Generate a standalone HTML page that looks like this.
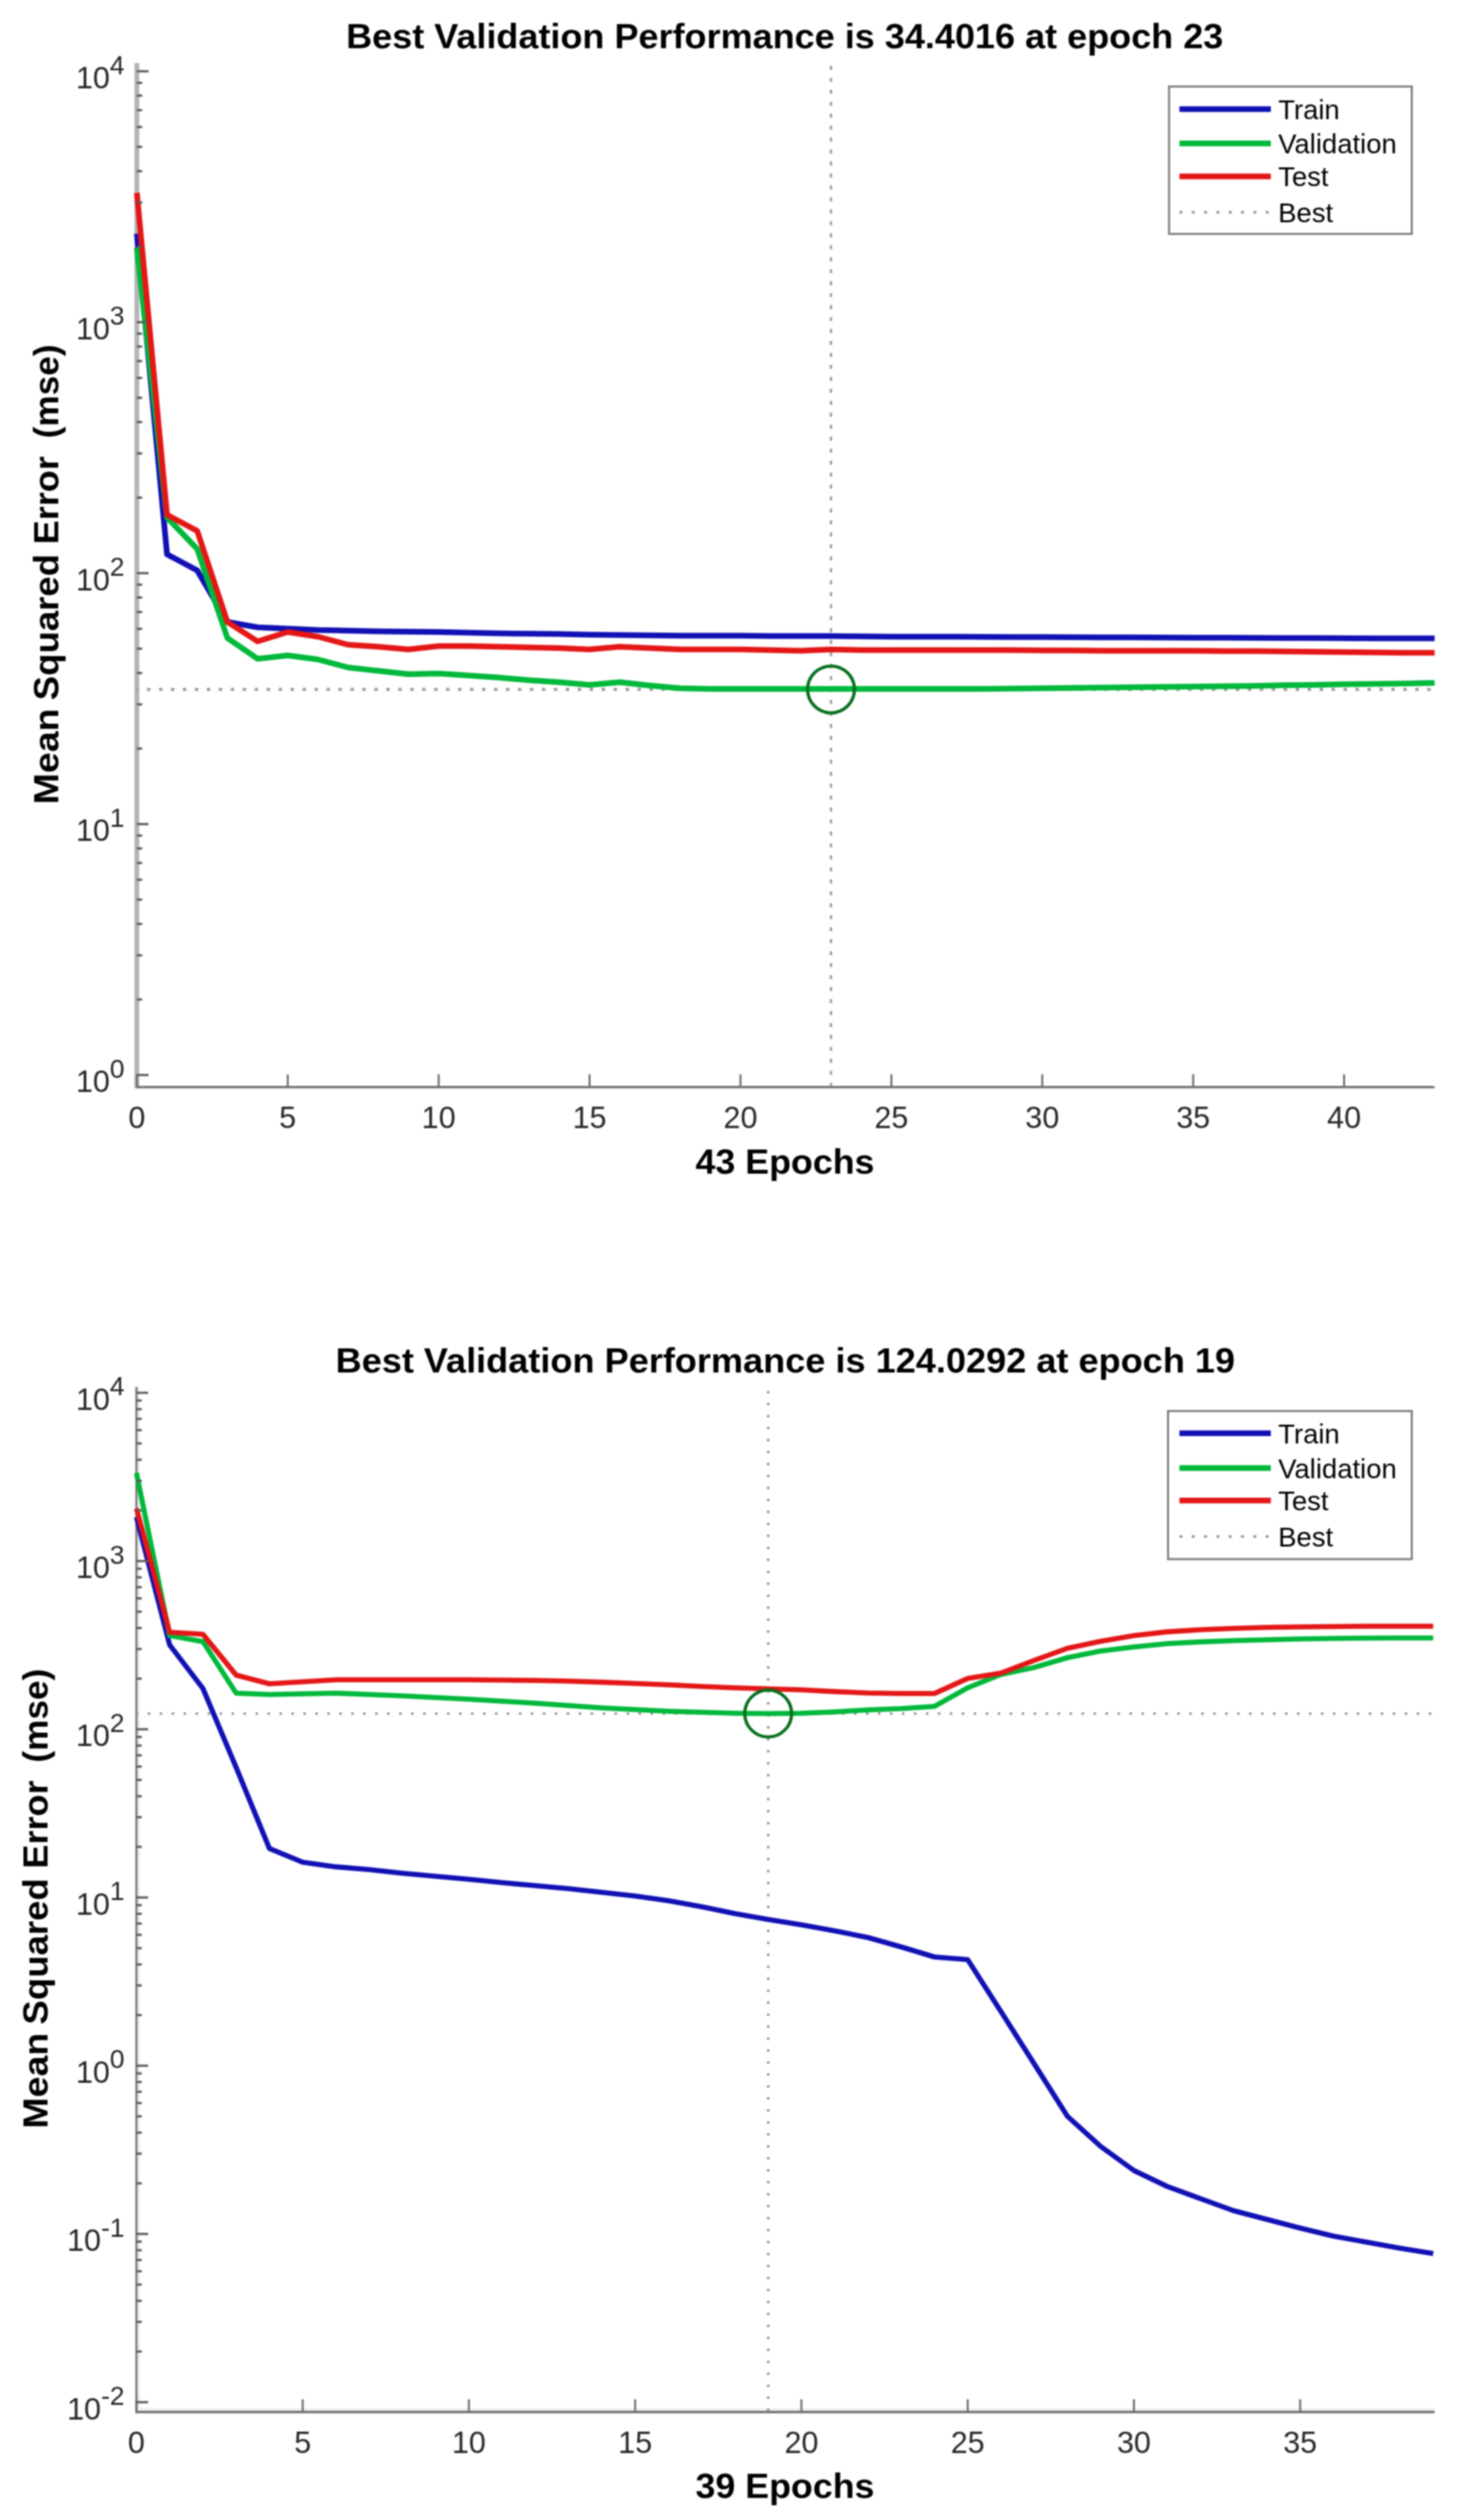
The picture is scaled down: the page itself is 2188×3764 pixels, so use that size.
<!DOCTYPE html>
<html><head><meta charset="utf-8"><title>Best Validation Performance</title>
<style>
html,body{margin:0;padding:0;background:#fff;}
body{width:2188px;height:3764px;overflow:hidden;}
svg{display:block;filter:blur(0.8px);}
.tk{font-family:'Liberation Sans', Arial, Helvetica, sans-serif;font-size:45.5px;fill:#262626;}
.sup{font-size:39.5px;}
.bt{font-family:'Liberation Sans', Arial, Helvetica, sans-serif;font-size:52px;font-weight:bold;fill:#000;}
.lg{font-family:'Liberation Sans', Arial, Helvetica, sans-serif;font-size:41px;fill:#000;}
</style></head><body>
<svg width="2188" height="3764" viewBox="0 0 2188 3764">
<rect width="2188" height="3764" fill="#fff"/>
<line x1="204.4" y1="94" x2="204.4" y2="1625.4" stroke="#b5b5b5" stroke-width="7.2"/>
<line x1="203.9" y1="1623.7" x2="2142.5" y2="1623.7" stroke="#6e6e6e" stroke-width="3.4"/>
<line x1="204.4" y1="1029.79" x2="2139.5" y2="1029.79" stroke="#9a9a9a" stroke-width="4.6" stroke-dasharray="5 12.87" stroke-dashoffset="2.67"/>
<line x1="1241.13" y1="94" x2="1241.13" y2="1621.7" stroke="#9a9a9a" stroke-width="3.4" stroke-dasharray="6 11.87" stroke-dashoffset="13.57"/>
<polyline points="204.4,349 249.48,828 294.55,852 339.62,929 384.7,937 429.77,939 474.85,941 519.93,942 565,943 610.08,943.5 655.15,944 700.23,945 745.3,946 790.38,946.5 835.45,947 880.52,948 925.6,948.5 970.68,949 1015.75,949.5 1060.83,949.5 1105.9,949.5 1150.98,950 1196.05,950 1241.13,950 1286.2,950.5 1331.28,951 1376.35,951 1421.43,951 1466.5,951.2 1511.58,951.5 1556.65,951.5 1601.73,951.8 1646.8,952 1691.88,952 1736.95,952.2 1782.03,952.5 1827.1,952.5 1872.18,952.8 1917.25,953 1962.33,953 2007.4,953.2 2052.47,953.5 2097.55,953.5 2142.62,953.5" fill="none" stroke="#1010b4" stroke-width="8.5" stroke-linejoin="round" stroke-linecap="butt"/>
<polyline points="204.4,370 249.48,773 294.55,820 339.62,953 384.7,984 429.77,979 474.85,985 519.93,997 565,1002 610.08,1007 655.15,1006 700.23,1009 745.3,1012 790.38,1016 835.45,1019 880.52,1023 925.6,1019 970.68,1024 1015.75,1028 1060.83,1029 1105.9,1029 1150.98,1029 1196.05,1029 1241.13,1029 1286.2,1029 1331.28,1029 1376.35,1029 1421.43,1029 1466.5,1029 1511.58,1028.5 1556.65,1028 1601.73,1027.5 1646.8,1027 1691.88,1026.5 1736.95,1026 1782.03,1025.5 1827.1,1025 1872.18,1024.5 1917.25,1023.5 1962.33,1023 2007.4,1022 2052.47,1021.5 2097.55,1021 2142.62,1020" fill="none" stroke="#00b83a" stroke-width="8.5" stroke-linejoin="round" stroke-linecap="butt"/>
<polyline points="204.4,288 249.48,769 294.55,793 339.62,929 384.7,958 429.77,944 474.85,951 519.93,963 565,966 610.08,970 655.15,965 700.23,965 745.3,966 790.38,967 835.45,968 880.52,970 925.6,966 970.68,968 1015.75,970 1060.83,970 1105.9,970 1150.98,971 1196.05,972 1241.13,970 1286.2,971 1331.28,971 1376.35,971 1421.43,971 1466.5,971 1511.58,971 1556.65,971.5 1601.73,971.5 1646.8,972 1691.88,972 1736.95,972 1782.03,972 1827.1,972.5 1872.18,972.5 1917.25,973 1962.33,973.5 2007.4,974 2052.47,974.5 2097.55,975 2142.62,975" fill="none" stroke="#e41616" stroke-width="8.5" stroke-linejoin="round" stroke-linecap="butt"/>
<circle cx="1241.13" cy="1029.79" r="35" fill="none" stroke="#066f1c" stroke-width="4.8"/>
<line x1="204.4" y1="1623.7" x2="204.4" y2="1604.7" stroke="#6e6e6e" stroke-width="3"/>
<text x="204.4" y="1684.8" text-anchor="middle" class="tk">0</text>
<line x1="429.77" y1="1623.7" x2="429.77" y2="1604.7" stroke="#6e6e6e" stroke-width="3"/>
<text x="429.77" y="1684.8" text-anchor="middle" class="tk">5</text>
<line x1="655.15" y1="1623.7" x2="655.15" y2="1604.7" stroke="#6e6e6e" stroke-width="3"/>
<text x="655.15" y="1684.8" text-anchor="middle" class="tk">10</text>
<line x1="880.52" y1="1623.7" x2="880.52" y2="1604.7" stroke="#6e6e6e" stroke-width="3"/>
<text x="880.52" y="1684.8" text-anchor="middle" class="tk">15</text>
<line x1="1105.9" y1="1623.7" x2="1105.9" y2="1604.7" stroke="#6e6e6e" stroke-width="3"/>
<text x="1105.9" y="1684.8" text-anchor="middle" class="tk">20</text>
<line x1="1331.28" y1="1623.7" x2="1331.28" y2="1604.7" stroke="#6e6e6e" stroke-width="3"/>
<text x="1331.28" y="1684.8" text-anchor="middle" class="tk">25</text>
<line x1="1556.65" y1="1623.7" x2="1556.65" y2="1604.7" stroke="#6e6e6e" stroke-width="3"/>
<text x="1556.65" y="1684.8" text-anchor="middle" class="tk">30</text>
<line x1="1782.03" y1="1623.7" x2="1782.03" y2="1604.7" stroke="#6e6e6e" stroke-width="3"/>
<text x="1782.03" y="1684.8" text-anchor="middle" class="tk">35</text>
<line x1="2007.4" y1="1623.7" x2="2007.4" y2="1604.7" stroke="#6e6e6e" stroke-width="3"/>
<text x="2007.4" y="1684.8" text-anchor="middle" class="tk">40</text>
<line x1="204.4" y1="1605.7" x2="221.9" y2="1605.7" stroke="#5a5a5a" stroke-width="3.3"/>
<line x1="204.4" y1="1492.87" x2="212.4" y2="1492.87" stroke="#5a5a5a" stroke-width="3.3"/>
<line x1="204.4" y1="1426.87" x2="212.4" y2="1426.87" stroke="#5a5a5a" stroke-width="3.3"/>
<line x1="204.4" y1="1380.05" x2="212.4" y2="1380.05" stroke="#5a5a5a" stroke-width="3.3"/>
<line x1="204.4" y1="1343.73" x2="212.4" y2="1343.73" stroke="#5a5a5a" stroke-width="3.3"/>
<line x1="204.4" y1="1314.05" x2="212.4" y2="1314.05" stroke="#5a5a5a" stroke-width="3.3"/>
<line x1="204.4" y1="1288.96" x2="212.4" y2="1288.96" stroke="#5a5a5a" stroke-width="3.3"/>
<line x1="204.4" y1="1267.22" x2="212.4" y2="1267.22" stroke="#5a5a5a" stroke-width="3.3"/>
<line x1="204.4" y1="1248.05" x2="212.4" y2="1248.05" stroke="#5a5a5a" stroke-width="3.3"/>
<text x="186" y="1631.2" text-anchor="end" class="tk">10<tspan class="sup" dy="-21.5">0</tspan></text>
<line x1="204.4" y1="1230.9" x2="221.9" y2="1230.9" stroke="#5a5a5a" stroke-width="3.3"/>
<line x1="204.4" y1="1118.07" x2="212.4" y2="1118.07" stroke="#5a5a5a" stroke-width="3.3"/>
<line x1="204.4" y1="1052.07" x2="212.4" y2="1052.07" stroke="#5a5a5a" stroke-width="3.3"/>
<line x1="204.4" y1="1005.25" x2="212.4" y2="1005.25" stroke="#5a5a5a" stroke-width="3.3"/>
<line x1="204.4" y1="968.93" x2="212.4" y2="968.93" stroke="#5a5a5a" stroke-width="3.3"/>
<line x1="204.4" y1="939.25" x2="212.4" y2="939.25" stroke="#5a5a5a" stroke-width="3.3"/>
<line x1="204.4" y1="914.16" x2="212.4" y2="914.16" stroke="#5a5a5a" stroke-width="3.3"/>
<line x1="204.4" y1="892.42" x2="212.4" y2="892.42" stroke="#5a5a5a" stroke-width="3.3"/>
<line x1="204.4" y1="873.25" x2="212.4" y2="873.25" stroke="#5a5a5a" stroke-width="3.3"/>
<text x="186" y="1256.4" text-anchor="end" class="tk">10<tspan class="sup" dy="-21.5">1</tspan></text>
<line x1="204.4" y1="856.1" x2="221.9" y2="856.1" stroke="#5a5a5a" stroke-width="3.3"/>
<line x1="204.4" y1="743.27" x2="212.4" y2="743.27" stroke="#5a5a5a" stroke-width="3.3"/>
<line x1="204.4" y1="677.27" x2="212.4" y2="677.27" stroke="#5a5a5a" stroke-width="3.3"/>
<line x1="204.4" y1="630.45" x2="212.4" y2="630.45" stroke="#5a5a5a" stroke-width="3.3"/>
<line x1="204.4" y1="594.13" x2="212.4" y2="594.13" stroke="#5a5a5a" stroke-width="3.3"/>
<line x1="204.4" y1="564.45" x2="212.4" y2="564.45" stroke="#5a5a5a" stroke-width="3.3"/>
<line x1="204.4" y1="539.36" x2="212.4" y2="539.36" stroke="#5a5a5a" stroke-width="3.3"/>
<line x1="204.4" y1="517.62" x2="212.4" y2="517.62" stroke="#5a5a5a" stroke-width="3.3"/>
<line x1="204.4" y1="498.45" x2="212.4" y2="498.45" stroke="#5a5a5a" stroke-width="3.3"/>
<text x="186" y="881.6" text-anchor="end" class="tk">10<tspan class="sup" dy="-21.5">2</tspan></text>
<line x1="204.4" y1="481.3" x2="221.9" y2="481.3" stroke="#5a5a5a" stroke-width="3.3"/>
<line x1="204.4" y1="368.47" x2="212.4" y2="368.47" stroke="#5a5a5a" stroke-width="3.3"/>
<line x1="204.4" y1="302.47" x2="212.4" y2="302.47" stroke="#5a5a5a" stroke-width="3.3"/>
<line x1="204.4" y1="255.65" x2="212.4" y2="255.65" stroke="#5a5a5a" stroke-width="3.3"/>
<line x1="204.4" y1="219.33" x2="212.4" y2="219.33" stroke="#5a5a5a" stroke-width="3.3"/>
<line x1="204.4" y1="189.65" x2="212.4" y2="189.65" stroke="#5a5a5a" stroke-width="3.3"/>
<line x1="204.4" y1="164.56" x2="212.4" y2="164.56" stroke="#5a5a5a" stroke-width="3.3"/>
<line x1="204.4" y1="142.82" x2="212.4" y2="142.82" stroke="#5a5a5a" stroke-width="3.3"/>
<line x1="204.4" y1="123.65" x2="212.4" y2="123.65" stroke="#5a5a5a" stroke-width="3.3"/>
<text x="186" y="506.8" text-anchor="end" class="tk">10<tspan class="sup" dy="-21.5">3</tspan></text>
<line x1="204.4" y1="106.5" x2="221.9" y2="106.5" stroke="#5a5a5a" stroke-width="3.3"/>
<text x="186" y="132" text-anchor="end" class="tk">10<tspan class="sup" dy="-21.5">4</tspan></text>
<text x="517" y="72.4" class="bt" textLength="1310" lengthAdjust="spacingAndGlyphs">Best Validation Performance is 34.4016 at epoch 23</text>
<text x="1038.8" y="1752.9" class="bt" textLength="267.2" lengthAdjust="spacingAndGlyphs">43 Epochs</text>
<text transform="translate(87,1201.54) rotate(-90)" x="0" y="0" class="bt" textLength="143.39" lengthAdjust="spacingAndGlyphs">Mean</text>
<text transform="translate(87,1045.9) rotate(-90)" x="0" y="0" class="bt" textLength="218.51" lengthAdjust="spacingAndGlyphs">Squared</text>
<text transform="translate(87,812.9) rotate(-90)" x="0" y="0" class="bt" textLength="131.5" lengthAdjust="spacingAndGlyphs">Error</text>
<text transform="translate(87,654.84) rotate(-90)" x="0" y="0" class="bt" textLength="140.39" lengthAdjust="spacingAndGlyphs">(mse)</text>
<rect x="1746" y="129.2" width="362.5" height="220.2" fill="#fff" stroke="#7a7a7a" stroke-width="3"/>
<line x1="1761.5" y1="163" x2="1898" y2="163" stroke="#1010b4" stroke-width="8.5"/>
<text x="1909" y="177.8" class="lg">Train</text>
<line x1="1761.5" y1="214.3" x2="1898" y2="214.3" stroke="#00b83a" stroke-width="8.5"/>
<text x="1909" y="229.1" class="lg">Validation</text>
<line x1="1761.5" y1="263.4" x2="1898" y2="263.4" stroke="#e41616" stroke-width="8.5"/>
<text x="1909" y="278.2" class="lg">Test</text>
<line x1="1761.5" y1="317" x2="1898" y2="317" stroke="#9a9a9a" stroke-width="4.2" stroke-dasharray="4.5 13.9"/>
<text x="1909" y="331.8" class="lg">Best</text>
<line x1="207.05" y1="2071.6" x2="207.05" y2="3599.7" stroke="#ededed" stroke-width="3.4"/>
<line x1="205.35" y1="3599.1" x2="2142.5" y2="3599.1" stroke="#ededed" stroke-width="3.6"/>
<line x1="203.75" y1="2071.6" x2="203.75" y2="3604.4" stroke="#7a7a7a" stroke-width="3.2"/>
<line x1="203.25" y1="3602.7" x2="2142.5" y2="3602.7" stroke="#6e6e6e" stroke-width="3.4"/>
<line x1="203.75" y1="2559.42" x2="2139.5" y2="2559.42" stroke="#8a8a8a" stroke-width="3.5" stroke-dasharray="3.5 14.38" stroke-dashoffset="0.88"/>
<line x1="1147.29" y1="2071.6" x2="1147.29" y2="3600.7" stroke="#8a8a8a" stroke-width="3.5" stroke-dasharray="3.5 14.38" stroke-dashoffset="11.78"/>
<polyline points="203.75,2266 253.41,2457 303.07,2522 352.73,2640 402.39,2761 452.05,2781.6 501.71,2788.4 551.37,2792.5 601.03,2798 650.69,2802.5 700.35,2807 750.01,2812 799.67,2816.5 849.33,2821 898.99,2826.5 948.65,2832 998.31,2839 1047.97,2848 1097.63,2858.3 1147.29,2867 1196.95,2875 1246.61,2884 1296.27,2894 1345.93,2908 1395.59,2923 1445.25,2927 1494.91,3004.5 1544.57,3082.6 1594.23,3161 1643.89,3206 1693.55,3242 1743.21,3265.7 1792.87,3284 1842.53,3302 1892.19,3315 1941.85,3328 1991.51,3340 2041.17,3349 2090.83,3358 2140.49,3366" fill="none" stroke="#1010b4" stroke-width="7.6" stroke-linejoin="round" stroke-linecap="butt"/>
<polyline points="203.75,2200 253.41,2443 303.07,2452 352.73,2529 402.39,2531 452.05,2530 501.71,2529 551.37,2531 601.03,2533 650.69,2535.5 700.35,2538 750.01,2541 799.67,2544 849.33,2547.5 898.99,2551 948.65,2553.5 998.31,2556 1047.97,2557.5 1097.63,2559 1147.29,2559.5 1196.95,2559 1246.61,2557 1296.27,2554 1345.93,2552 1395.59,2548.7 1445.25,2521 1494.91,2501 1544.57,2490.6 1594.23,2476 1643.89,2466 1693.55,2460 1743.21,2455 1792.87,2452.4 1842.53,2450.5 1892.19,2449.3 1941.85,2448 1991.51,2447.3 2041.17,2446.7 2090.83,2446.5 2140.49,2446.5" fill="none" stroke="#00b83a" stroke-width="7.6" stroke-linejoin="round" stroke-linecap="butt"/>
<polyline points="203.75,2253 253.41,2438 303.07,2441 352.73,2502 402.39,2515 452.05,2512 501.71,2509 551.37,2509 601.03,2509 650.69,2509 700.35,2509 750.01,2509.5 799.67,2510 849.33,2511 898.99,2512.6 948.65,2514.5 998.31,2516.5 1047.97,2519 1097.63,2521 1147.29,2522.5 1196.95,2524 1246.61,2526.6 1296.27,2528.7 1345.93,2529.5 1395.59,2529.5 1445.25,2507 1494.91,2499 1544.57,2480 1594.23,2462 1643.89,2451.5 1693.55,2443 1743.21,2437.4 1792.87,2434.2 1842.53,2432.3 1892.19,2430.7 1941.85,2430 1991.51,2429.5 2041.17,2429 2090.83,2429 2140.49,2429" fill="none" stroke="#e41616" stroke-width="7.6" stroke-linejoin="round" stroke-linecap="butt"/>
<circle cx="1147.29" cy="2559.42" r="35" fill="none" stroke="#066f1c" stroke-width="4.8"/>
<line x1="203.75" y1="3602.7" x2="203.75" y2="3583.7" stroke="#6e6e6e" stroke-width="3"/>
<text x="203.75" y="3663.6" text-anchor="middle" class="tk">0</text>
<line x1="452.05" y1="3602.7" x2="452.05" y2="3583.7" stroke="#6e6e6e" stroke-width="3"/>
<text x="452.05" y="3663.6" text-anchor="middle" class="tk">5</text>
<line x1="700.35" y1="3602.7" x2="700.35" y2="3583.7" stroke="#6e6e6e" stroke-width="3"/>
<text x="700.35" y="3663.6" text-anchor="middle" class="tk">10</text>
<line x1="948.65" y1="3602.7" x2="948.65" y2="3583.7" stroke="#6e6e6e" stroke-width="3"/>
<text x="948.65" y="3663.6" text-anchor="middle" class="tk">15</text>
<line x1="1196.95" y1="3602.7" x2="1196.95" y2="3583.7" stroke="#6e6e6e" stroke-width="3"/>
<text x="1196.95" y="3663.6" text-anchor="middle" class="tk">20</text>
<line x1="1445.25" y1="3602.7" x2="1445.25" y2="3583.7" stroke="#6e6e6e" stroke-width="3"/>
<text x="1445.25" y="3663.6" text-anchor="middle" class="tk">25</text>
<line x1="1693.55" y1="3602.7" x2="1693.55" y2="3583.7" stroke="#6e6e6e" stroke-width="3"/>
<text x="1693.55" y="3663.6" text-anchor="middle" class="tk">30</text>
<line x1="1941.85" y1="3602.7" x2="1941.85" y2="3583.7" stroke="#6e6e6e" stroke-width="3"/>
<text x="1941.85" y="3663.6" text-anchor="middle" class="tk">35</text>
<line x1="203.75" y1="3588" x2="221.25" y2="3588" stroke="#5a5a5a" stroke-width="3.3"/>
<line x1="203.75" y1="3512.36" x2="211.75" y2="3512.36" stroke="#5a5a5a" stroke-width="3.3"/>
<line x1="203.75" y1="3468.11" x2="211.75" y2="3468.11" stroke="#5a5a5a" stroke-width="3.3"/>
<line x1="203.75" y1="3436.72" x2="211.75" y2="3436.72" stroke="#5a5a5a" stroke-width="3.3"/>
<line x1="203.75" y1="3412.37" x2="211.75" y2="3412.37" stroke="#5a5a5a" stroke-width="3.3"/>
<line x1="203.75" y1="3392.47" x2="211.75" y2="3392.47" stroke="#5a5a5a" stroke-width="3.3"/>
<line x1="203.75" y1="3375.65" x2="211.75" y2="3375.65" stroke="#5a5a5a" stroke-width="3.3"/>
<line x1="203.75" y1="3361.08" x2="211.75" y2="3361.08" stroke="#5a5a5a" stroke-width="3.3"/>
<line x1="203.75" y1="3348.23" x2="211.75" y2="3348.23" stroke="#5a5a5a" stroke-width="3.3"/>
<text x="186" y="3613.5" text-anchor="end" class="tk">10<tspan class="sup" dy="-21.5">-2</tspan></text>
<line x1="203.75" y1="3336.73" x2="221.25" y2="3336.73" stroke="#5a5a5a" stroke-width="3.3"/>
<line x1="203.75" y1="3261.09" x2="211.75" y2="3261.09" stroke="#5a5a5a" stroke-width="3.3"/>
<line x1="203.75" y1="3216.84" x2="211.75" y2="3216.84" stroke="#5a5a5a" stroke-width="3.3"/>
<line x1="203.75" y1="3185.45" x2="211.75" y2="3185.45" stroke="#5a5a5a" stroke-width="3.3"/>
<line x1="203.75" y1="3161.1" x2="211.75" y2="3161.1" stroke="#5a5a5a" stroke-width="3.3"/>
<line x1="203.75" y1="3141.2" x2="211.75" y2="3141.2" stroke="#5a5a5a" stroke-width="3.3"/>
<line x1="203.75" y1="3124.38" x2="211.75" y2="3124.38" stroke="#5a5a5a" stroke-width="3.3"/>
<line x1="203.75" y1="3109.81" x2="211.75" y2="3109.81" stroke="#5a5a5a" stroke-width="3.3"/>
<line x1="203.75" y1="3096.96" x2="211.75" y2="3096.96" stroke="#5a5a5a" stroke-width="3.3"/>
<text x="186" y="3362.23" text-anchor="end" class="tk">10<tspan class="sup" dy="-21.5">-1</tspan></text>
<line x1="203.75" y1="3085.46" x2="221.25" y2="3085.46" stroke="#5a5a5a" stroke-width="3.3"/>
<line x1="203.75" y1="3009.82" x2="211.75" y2="3009.82" stroke="#5a5a5a" stroke-width="3.3"/>
<line x1="203.75" y1="2965.57" x2="211.75" y2="2965.57" stroke="#5a5a5a" stroke-width="3.3"/>
<line x1="203.75" y1="2934.18" x2="211.75" y2="2934.18" stroke="#5a5a5a" stroke-width="3.3"/>
<line x1="203.75" y1="2909.83" x2="211.75" y2="2909.83" stroke="#5a5a5a" stroke-width="3.3"/>
<line x1="203.75" y1="2889.93" x2="211.75" y2="2889.93" stroke="#5a5a5a" stroke-width="3.3"/>
<line x1="203.75" y1="2873.11" x2="211.75" y2="2873.11" stroke="#5a5a5a" stroke-width="3.3"/>
<line x1="203.75" y1="2858.54" x2="211.75" y2="2858.54" stroke="#5a5a5a" stroke-width="3.3"/>
<line x1="203.75" y1="2845.69" x2="211.75" y2="2845.69" stroke="#5a5a5a" stroke-width="3.3"/>
<text x="186" y="3110.96" text-anchor="end" class="tk">10<tspan class="sup" dy="-21.5">0</tspan></text>
<line x1="203.75" y1="2834.19" x2="221.25" y2="2834.19" stroke="#5a5a5a" stroke-width="3.3"/>
<line x1="203.75" y1="2758.55" x2="211.75" y2="2758.55" stroke="#5a5a5a" stroke-width="3.3"/>
<line x1="203.75" y1="2714.3" x2="211.75" y2="2714.3" stroke="#5a5a5a" stroke-width="3.3"/>
<line x1="203.75" y1="2682.91" x2="211.75" y2="2682.91" stroke="#5a5a5a" stroke-width="3.3"/>
<line x1="203.75" y1="2658.56" x2="211.75" y2="2658.56" stroke="#5a5a5a" stroke-width="3.3"/>
<line x1="203.75" y1="2638.66" x2="211.75" y2="2638.66" stroke="#5a5a5a" stroke-width="3.3"/>
<line x1="203.75" y1="2621.84" x2="211.75" y2="2621.84" stroke="#5a5a5a" stroke-width="3.3"/>
<line x1="203.75" y1="2607.27" x2="211.75" y2="2607.27" stroke="#5a5a5a" stroke-width="3.3"/>
<line x1="203.75" y1="2594.42" x2="211.75" y2="2594.42" stroke="#5a5a5a" stroke-width="3.3"/>
<text x="186" y="2859.69" text-anchor="end" class="tk">10<tspan class="sup" dy="-21.5">1</tspan></text>
<line x1="203.75" y1="2582.92" x2="221.25" y2="2582.92" stroke="#5a5a5a" stroke-width="3.3"/>
<line x1="203.75" y1="2507.28" x2="211.75" y2="2507.28" stroke="#5a5a5a" stroke-width="3.3"/>
<line x1="203.75" y1="2463.03" x2="211.75" y2="2463.03" stroke="#5a5a5a" stroke-width="3.3"/>
<line x1="203.75" y1="2431.64" x2="211.75" y2="2431.64" stroke="#5a5a5a" stroke-width="3.3"/>
<line x1="203.75" y1="2407.29" x2="211.75" y2="2407.29" stroke="#5a5a5a" stroke-width="3.3"/>
<line x1="203.75" y1="2387.39" x2="211.75" y2="2387.39" stroke="#5a5a5a" stroke-width="3.3"/>
<line x1="203.75" y1="2370.57" x2="211.75" y2="2370.57" stroke="#5a5a5a" stroke-width="3.3"/>
<line x1="203.75" y1="2356" x2="211.75" y2="2356" stroke="#5a5a5a" stroke-width="3.3"/>
<line x1="203.75" y1="2343.15" x2="211.75" y2="2343.15" stroke="#5a5a5a" stroke-width="3.3"/>
<text x="186" y="2608.42" text-anchor="end" class="tk">10<tspan class="sup" dy="-21.5">2</tspan></text>
<line x1="203.75" y1="2331.65" x2="221.25" y2="2331.65" stroke="#5a5a5a" stroke-width="3.3"/>
<line x1="203.75" y1="2256.01" x2="211.75" y2="2256.01" stroke="#5a5a5a" stroke-width="3.3"/>
<line x1="203.75" y1="2211.76" x2="211.75" y2="2211.76" stroke="#5a5a5a" stroke-width="3.3"/>
<line x1="203.75" y1="2180.37" x2="211.75" y2="2180.37" stroke="#5a5a5a" stroke-width="3.3"/>
<line x1="203.75" y1="2156.02" x2="211.75" y2="2156.02" stroke="#5a5a5a" stroke-width="3.3"/>
<line x1="203.75" y1="2136.12" x2="211.75" y2="2136.12" stroke="#5a5a5a" stroke-width="3.3"/>
<line x1="203.75" y1="2119.3" x2="211.75" y2="2119.3" stroke="#5a5a5a" stroke-width="3.3"/>
<line x1="203.75" y1="2104.73" x2="211.75" y2="2104.73" stroke="#5a5a5a" stroke-width="3.3"/>
<line x1="203.75" y1="2091.88" x2="211.75" y2="2091.88" stroke="#5a5a5a" stroke-width="3.3"/>
<text x="186" y="2357.15" text-anchor="end" class="tk">10<tspan class="sup" dy="-21.5">3</tspan></text>
<line x1="203.75" y1="2080.38" x2="221.25" y2="2080.38" stroke="#5a5a5a" stroke-width="3.3"/>
<text x="186" y="2105.88" text-anchor="end" class="tk">10<tspan class="sup" dy="-21.5">4</tspan></text>
<text x="501.2" y="2049.6" class="bt" textLength="1343.4" lengthAdjust="spacingAndGlyphs">Best Validation Performance is 124.0292 at epoch 19</text>
<text x="1038.8" y="3731" class="bt" textLength="267.2" lengthAdjust="spacingAndGlyphs">39 Epochs</text>
<text transform="translate(71.4,3179.54) rotate(-90)" x="0" y="0" class="bt" textLength="143.39" lengthAdjust="spacingAndGlyphs">Mean</text>
<text transform="translate(71.4,3023.9) rotate(-90)" x="0" y="0" class="bt" textLength="218.51" lengthAdjust="spacingAndGlyphs">Squared</text>
<text transform="translate(71.4,2790.9) rotate(-90)" x="0" y="0" class="bt" textLength="131.5" lengthAdjust="spacingAndGlyphs">Error</text>
<text transform="translate(71.4,2632.84) rotate(-90)" x="0" y="0" class="bt" textLength="140.39" lengthAdjust="spacingAndGlyphs">(mse)</text>
<rect x="1744.5" y="2107.6" width="364" height="221.2" fill="#fff" stroke="#7a7a7a" stroke-width="3"/>
<line x1="1761.5" y1="2140.8" x2="1898" y2="2140.8" stroke="#1010b4" stroke-width="8.5"/>
<text x="1909" y="2155.6" class="lg">Train</text>
<line x1="1761.5" y1="2192.7" x2="1898" y2="2192.7" stroke="#00b83a" stroke-width="8.5"/>
<text x="1909" y="2207.5" class="lg">Validation</text>
<line x1="1761.5" y1="2241.3" x2="1898" y2="2241.3" stroke="#e41616" stroke-width="8.5"/>
<text x="1909" y="2256.1" class="lg">Test</text>
<line x1="1761.5" y1="2295" x2="1898" y2="2295" stroke="#9a9a9a" stroke-width="4.2" stroke-dasharray="4.5 13.9"/>
<text x="1909" y="2309.8" class="lg">Best</text>
</svg>
</body></html>
